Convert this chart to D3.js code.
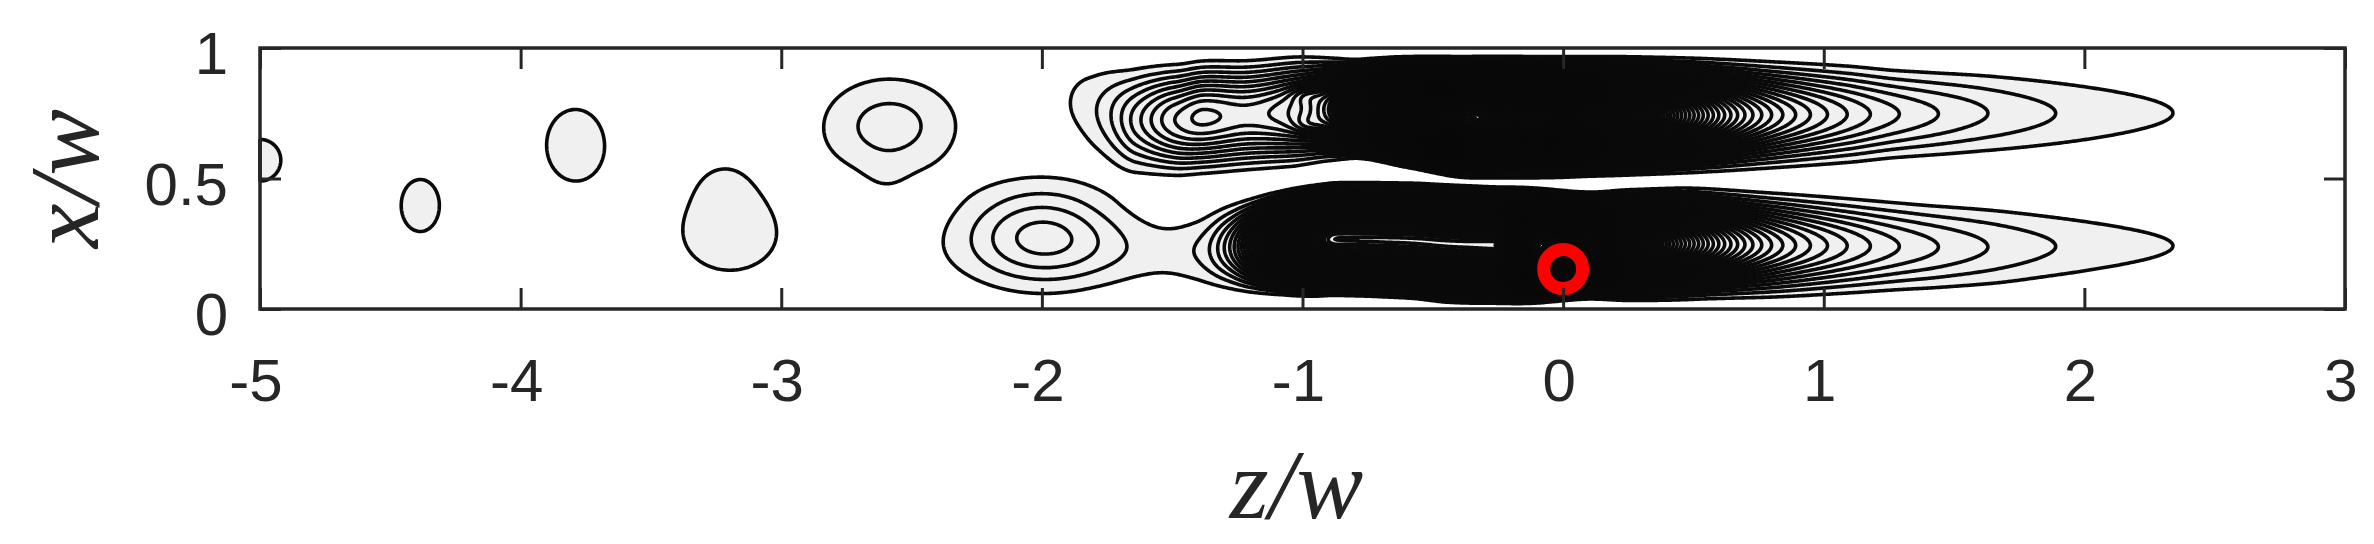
<!DOCTYPE html>
<html>
<head>
<meta charset="utf-8">
<script src="https://cdn.jsdelivr.net/npm/d3@7"></script>
<style>
  body { margin: 0; background: #fff; }
  svg { display: block; }
</style>
</head>
<body>
<svg id="chart"></svg>
<script>
// ==========================================
// Contour map of the field, z/w against x/w
// ==========================================

// axis ticks
const zTicks = [-5, -4, -3, -2, -1, 0, 1, 2, 3];
const xTicks = [0, 0.5, 1];
const xTickLabels = ["0", "0.5", "1"];

// upper band: ridge level (in contour steps), ridge centre and half width along z
const upperZ      = [-2.1, -1.89, -1.79, -1.64, -1.49, -1.38, -1.22, -1.05, -0.9, -0.78, -0.6, -0.35, -0.1, 0.1, 0.27, 0.52, 0.8, 1.09, 1.29, 1.44, 1.63, 1.89, 2.34, 2.7];
const upperLevel  = [0.2, 1, 2, 5.5, 9, 10.3, 9.5, 11, 16, 45, 125, 219.2, 180, 90, 45, 23, 12, 7, 5, 4, 3, 2, 1, 0.55];
const upperCentre = [0.8, 0.79, 0.76, 0.725, 0.725, 0.735, 0.742, 0.755, 0.765, 0.767, 0.755, 0.735, 0.735, 0.738, 0.74, 0.742, 0.744, 0.746, 0.747, 0.748, 0.75, 0.75, 0.751, 0.751];
const upperWidth  = [0.27, 0.27, 0.27, 0.27, 0.27, 0.27, 0.265, 0.26, 0.235, 0.21, 0.225, 0.243, 0.244, 0.246, 0.25, 0.252, 0.25, 0.245, 0.235, 0.234, 0.234, 0.232, 0.22, 0.215];

// lower band
const lowerZ      = [-1.75, -1.55, -1.41, -1.3, -1.2, -1.1, -0.95, -0.87, -0.59, -0.43, -0.27, -0.1, 0.1, 0.27, 0.52, 0.8, 1.09, 1.29, 1.44, 1.63, 1.89, 2.34, 2.7];
const lowerLevel  = [0.8, 1.15, 2.0, 5, 12, 25, 55, 60.05, 60.25, 60.3, 60.5, 150.15, 110, 45, 23, 12, 7, 5, 4, 3, 2, 1, 0.55];
const lowerCentre = [0.21, 0.215, 0.222, 0.235, 0.243, 0.252, 0.262, 0.268, 0.262, 0.25, 0.245, 0.243, 0.243, 0.245, 0.25, 0.245, 0.242, 0.24, 0.238, 0.238, 0.24, 0.242, 0.242];
const lowerWidth  = [0.2, 0.2, 0.21, 0.215, 0.219, 0.225, 0.233, 0.235, 0.24, 0.245, 0.243, 0.232, 0.218, 0.235, 0.245, 0.245, 0.24, 0.235, 0.233, 0.232, 0.22, 0.2, 0.2];

// isolated peaks
const blobZ     = [-5.0, -4.385, -3.79, -3.2, -3.22, -2.585, -2.6, -2.0, -0.99, -0.98];
const blobX     = [0.57, 0.397, 0.628, 0.31, 0.47, 0.7, 0.5, 0.285, 0.82, 0.706];
const blobSz    = [0.156, 0.155, 0.19, 0.27, 0.1, 0.263, 0.09, 0.295, 0.06, 0.06];
const blobSx    = [0.156, 0.21, 0.235, 0.24, 0.1, 0.19, 0.08, 0.185, 0.035, 0.035];
const blobLevel = [1.3, 1.25, 1.4, 1.5, 0.6, 2.46, 0.35, 4.1, 1.5, 1.5];

// marked point
const markerZ = [0];
const markerX = [0.153];

const maxLevel = 230;

const width = 2374;
const height = 544;
const margin = { top: 48, right: 29, bottom: 235, left: 260 };
const plotW = width - margin.left - margin.right;
const plotH = height - margin.top - margin.bottom;

const svg = d3.select("#chart")
  .attr("width", width)
  .attr("height", height);

const x = d3.scaleLinear().domain([-5, 3]).range([margin.left, margin.left + plotW]);
const y = d3.scaleLinear().domain([0, 1]).range([margin.top + plotH, margin.top]);

// smooth monotone curve through knots
function knotCurve(xs, ys, extrapolate) {
  const n = xs.length, h = [], d = [], m = [];
  for (let i = 0; i < n - 1; i++) {
    h[i] = xs[i + 1] - xs[i];
    d[i] = (ys[i + 1] - ys[i]) / h[i];
  }
  m[0] = d[0];
  m[n - 1] = d[n - 2];
  for (let i = 1; i < n - 1; i++) {
    if (d[i - 1] * d[i] <= 0) m[i] = 0;
    else {
      const w1 = 2 * h[i] + h[i - 1], w2 = h[i] + 2 * h[i - 1];
      m[i] = (w1 + w2) / (w1 / d[i - 1] + w2 / d[i]);
    }
  }
  return t => {
    if (t <= xs[0]) return extrapolate ? ys[0] + m[0] * (t - xs[0]) : ys[0];
    if (t >= xs[n - 1]) return extrapolate ? ys[n - 1] + m[n - 1] * (t - xs[n - 1]) : ys[n - 1];
    const i = Math.min(n - 2, d3.bisectRight(xs, t) - 1);
    const s = (t - xs[i]) / h[i], s2 = s * s, s3 = s2 * s;
    return (2 * s3 - 3 * s2 + 1) * ys[i] + (s3 - 2 * s2 + s) * h[i] * m[i]
      + (-2 * s3 + 3 * s2) * ys[i + 1] + (s3 - s2) * h[i] * m[i + 1];
  };
}

function band(zs, levels, centres, widths) {
  return {
    logA: knotCurve(zs, levels.map(Math.log), true),
    centre: knotCurve(zs, centres, false),
    width: knotCurve(zs, widths, false)
  };
}

const bands = [
  band(upperZ, upperLevel, upperCentre, upperWidth),
  band(lowerZ, lowerLevel, lowerCentre, lowerWidth)
];

// cos^2 cross-section, zero at +-1 half width
function profile(u) {
  if (u >= 1 || u <= -1) return 0;
  const c = Math.cos(Math.PI * u / 2);
  return c * c;
}

// sample the field on a grid covering the plot
const cell = 1.5;
const nx = Math.ceil(plotW / cell);
const ny = Math.ceil(plotH / cell);
const values = new Float64Array(nx * ny);

for (let i = 0; i < nx; i++) {
  const zv = x.invert(margin.left + (i + 0.5) * cell);
  const params = bands.map(b => [Math.exp(b.logA(zv)), b.centre(zv), b.width(zv)]);
  for (let j = 0; j < ny; j++) {
    const xv = y.invert(margin.top + (j + 0.5) * cell);
    let v = 0;
    params.forEach(([a, c, w]) => {
      v += a * profile((xv - c) / w);
    });
    for (let k = 0; k < blobZ.length; k++) {
      const uz = (zv - blobZ[k]) / blobSz[k];
      const ux = (xv - blobX[k]) / blobSx[k];
      v += blobLevel[k] * Math.exp(-uz * uz - ux * ux);
    }
    values[j * nx + i] = v;
  }
}

const thresholds = d3.range(1, maxLevel + 1);
const contours = d3.contours()
  .size([nx, ny])
  .thresholds(thresholds)(values);

const path = d3.geoPath(d3.geoIdentity().scale(cell));

const plot = svg.append("g")
  .attr("transform", `translate(${margin.left},${margin.top})`);

// light fill inside the lowest contour
plot.append("path")
  .attr("d", path(contours[0]))
  .attr("fill", "#f0f0f0")
  .attr("stroke", "none");

plot.selectAll(".iso")
  .data(contours)
  .join("path")
  .attr("class", "iso")
  .attr("d", path)
  .attr("fill", "none")
  .attr("stroke", "#0a0a0a")
  .attr("stroke-width", 3.6)
  .attr("stroke-linejoin", "round");

// marker
svg.selectAll(".marker")
  .data(markerZ)
  .join("circle")
  .attr("class", "marker")
  .attr("cx", d => x(d))
  .attr("cy", (d, i) => y(markerX[i]))
  .attr("r", 19.5)
  .attr("fill", "none")
  .attr("stroke", "#ff0000")
  .attr("stroke-width", 13);

// axes box with inward ticks on all sides
const axisColor = "#262626";
const tickLen = 21;

svg.append("g")
  .attr("transform", `translate(0,${margin.top + plotH})`)
  .call(d3.axisBottom(x).tickValues(zTicks).tickSize(-tickLen).tickFormat(""))
  .call(g => g.select(".domain").remove());

svg.append("g")
  .attr("transform", `translate(0,${margin.top})`)
  .call(d3.axisTop(x).tickValues(zTicks).tickSize(-tickLen).tickFormat(""))
  .call(g => g.select(".domain").remove());

svg.append("g")
  .attr("transform", `translate(${margin.left},0)`)
  .call(d3.axisLeft(y).tickValues(xTicks).tickSize(-tickLen).tickFormat(""))
  .call(g => g.select(".domain").remove());

svg.append("g")
  .attr("transform", `translate(${margin.left + plotW},0)`)
  .call(d3.axisRight(y).tickValues(xTicks).tickSize(-tickLen).tickFormat(""))
  .call(g => g.select(".domain").remove());

svg.selectAll(".tick line")
  .attr("stroke", axisColor)
  .attr("stroke-width", 3);

svg.append("rect")
  .attr("x", margin.left)
  .attr("y", margin.top)
  .attr("width", plotW)
  .attr("height", plotH)
  .attr("fill", "none")
  .attr("stroke", axisColor)
  .attr("stroke-width", 3.5);

// tick labels
svg.selectAll(".zlabel")
  .data(zTicks)
  .join("text")
  .attr("class", "zlabel")
  .attr("x", d => x(d) - 4)
  .attr("y", 401)
  .attr("text-anchor", "middle")
  .attr("font-family", "Liberation Sans, Arial, sans-serif")
  .attr("font-size", 60)
  .attr("fill", axisColor)
  .text(d => d);

svg.selectAll(".xlabel")
  .data(xTicks)
  .join("text")
  .attr("class", "xlabel")
  .attr("x", margin.left - 32)
  .attr("y", d => y(d) + 26)
  .attr("text-anchor", "end")
  .attr("font-family", "Liberation Sans, Arial, sans-serif")
  .attr("font-size", 60)
  .attr("fill", axisColor)
  .text((d, i) => xTickLabels[i]);

// axis titles
svg.append("text")
  .attr("x", margin.left + plotW / 2 - 6)
  .attr("y", 518)
  .attr("text-anchor", "middle")
  .attr("font-family", "Liberation Serif, Times New Roman, serif")
  .attr("font-style", "italic")
  .attr("font-size", 100)
  .attr("fill", axisColor)
  .text("z/w");

svg.append("text")
  .attr("transform", `translate(98,${margin.top + plotH / 2}) rotate(-90)`)
  .attr("text-anchor", "middle")
  .attr("font-family", "Liberation Serif, Times New Roman, serif")
  .attr("font-style", "italic")
  .attr("font-size", 100)
  .attr("fill", axisColor)
  .text("x/w");
</script>
</body>
</html>
